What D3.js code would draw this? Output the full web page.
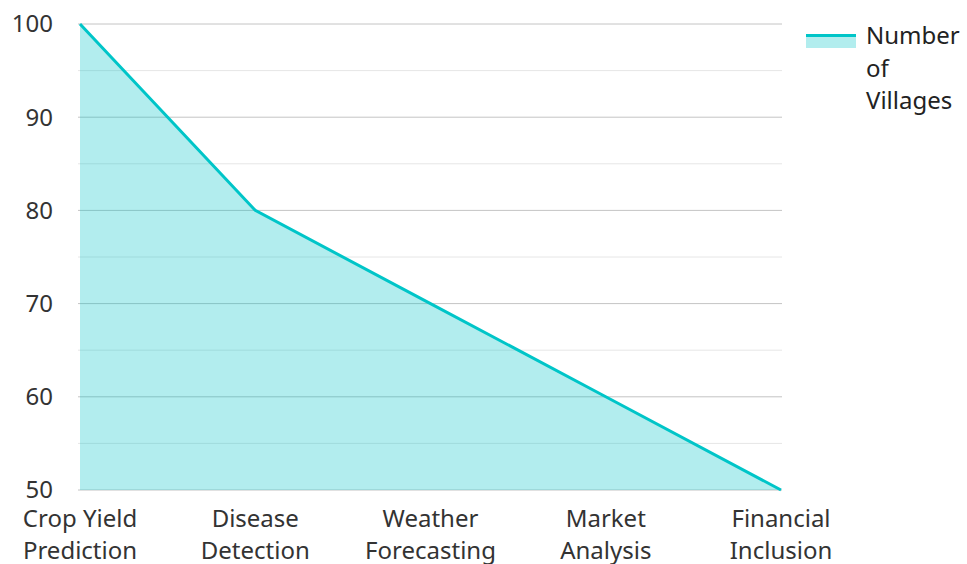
<!DOCTYPE html>
<html><head><meta charset="utf-8">
<script src="https://cdn.jsdelivr.net/npm/d3@7"></script>
<style>html,body{margin:0;padding:0;background:#fff;}svg{display:block;font-family:"Noto Sans","Open Sans",sans-serif;}</style>
</head><body>
<svg id="c" width="967" height="564"></svg>
<script>
const categories = [["Crop Yield","Prediction"],["Disease","Detection"],["Weather","Forecasting"],["Market","Analysis"],["Financial","Inclusion"]];
const values = [100, 80, 70, 60, 50];
const yTicks = [50, 60, 70, 80, 90, 100];
const minorTicks = [55, 65, 75, 85, 95];
const seriesName = ["Number", "of", "Villages"];
const lineColor = "#00c5c8";

(function () {
const svg = d3.select("#c");
const mLeft = 80, mRight = 781, mTop = 24, mBottom = 490;
const fs = 24;
const x = d3.scalePoint().domain(d3.range(categories.length)).range([mLeft, mRight]);
const y = d3.scaleLinear().domain([50, 100]).range([mBottom, mTop]);

const g = svg.append("g");
g.selectAll("line.minor").data(minorTicks).join("line").attr("class", "minor")
  .attr("x1", mLeft - 2).attr("x2", mRight + 1)
  .attr("y1", d => y(d)).attr("y2", d => y(d))
  .attr("stroke", "#e6e6e6").attr("stroke-width", 1);
g.selectAll("line.major").data(yTicks).join("line").attr("class", "major")
  .attr("x1", mLeft - 2).attr("x2", mRight + 1)
  .attr("y1", d => y(d)).attr("y2", d => y(d))
  .attr("stroke", "#c4c4c4").attr("stroke-width", 1);

const data = values.map((v, i) => ({i, v}));
g.append("path").datum(data)
  .attr("d", d3.area().x(d => x(d.i)).y0(y(50)).y1(d => y(d.v)))
  .attr("fill", lineColor).attr("fill-opacity", 0.3);
g.append("path").datum(data)
  .attr("d", d3.line().x(d => x(d.i)).y(d => y(d.v)))
  .attr("fill", "none").attr("stroke", lineColor).attr("stroke-width", 3);

g.selectAll("text.y").data(yTicks).join("text").attr("class", "y")
  .attr("x", 53).attr("y", d => y(d)).attr("dy", "0.35em")
  .attr("text-anchor", "end").attr("font-size", fs).attr("fill", "#333")
  .text(d => d);

const xl = g.selectAll("text.x").data(categories).join("text").attr("class", "x")
  .attr("text-anchor", "middle").attr("font-size", fs).attr("fill", "#333");
xl.each(function(d, i) {
  const t = d3.select(this);
  d.forEach((s, k) => t.append("tspan").attr("x", x(i)).attr("y", 527 + k * 32).text(s));
});

const lg = svg.append("g");
lg.append("rect").attr("x", 806).attr("y", 34).attr("width", 50).attr("height", 14)
  .attr("fill", lineColor).attr("fill-opacity", 0.3);
lg.append("line").attr("x1", 806).attr("x2", 856).attr("y1", 35.5).attr("y2", 35.5)
  .attr("stroke", lineColor).attr("stroke-width", 3);
lg.selectAll("text").data(seriesName).join("text")
  .attr("x", 866).attr("y", (d, k) => 44 + k * 32.5)
  .attr("font-size", fs).attr("fill", "#222").text(d => d);
})();
</script>
</body></html>
